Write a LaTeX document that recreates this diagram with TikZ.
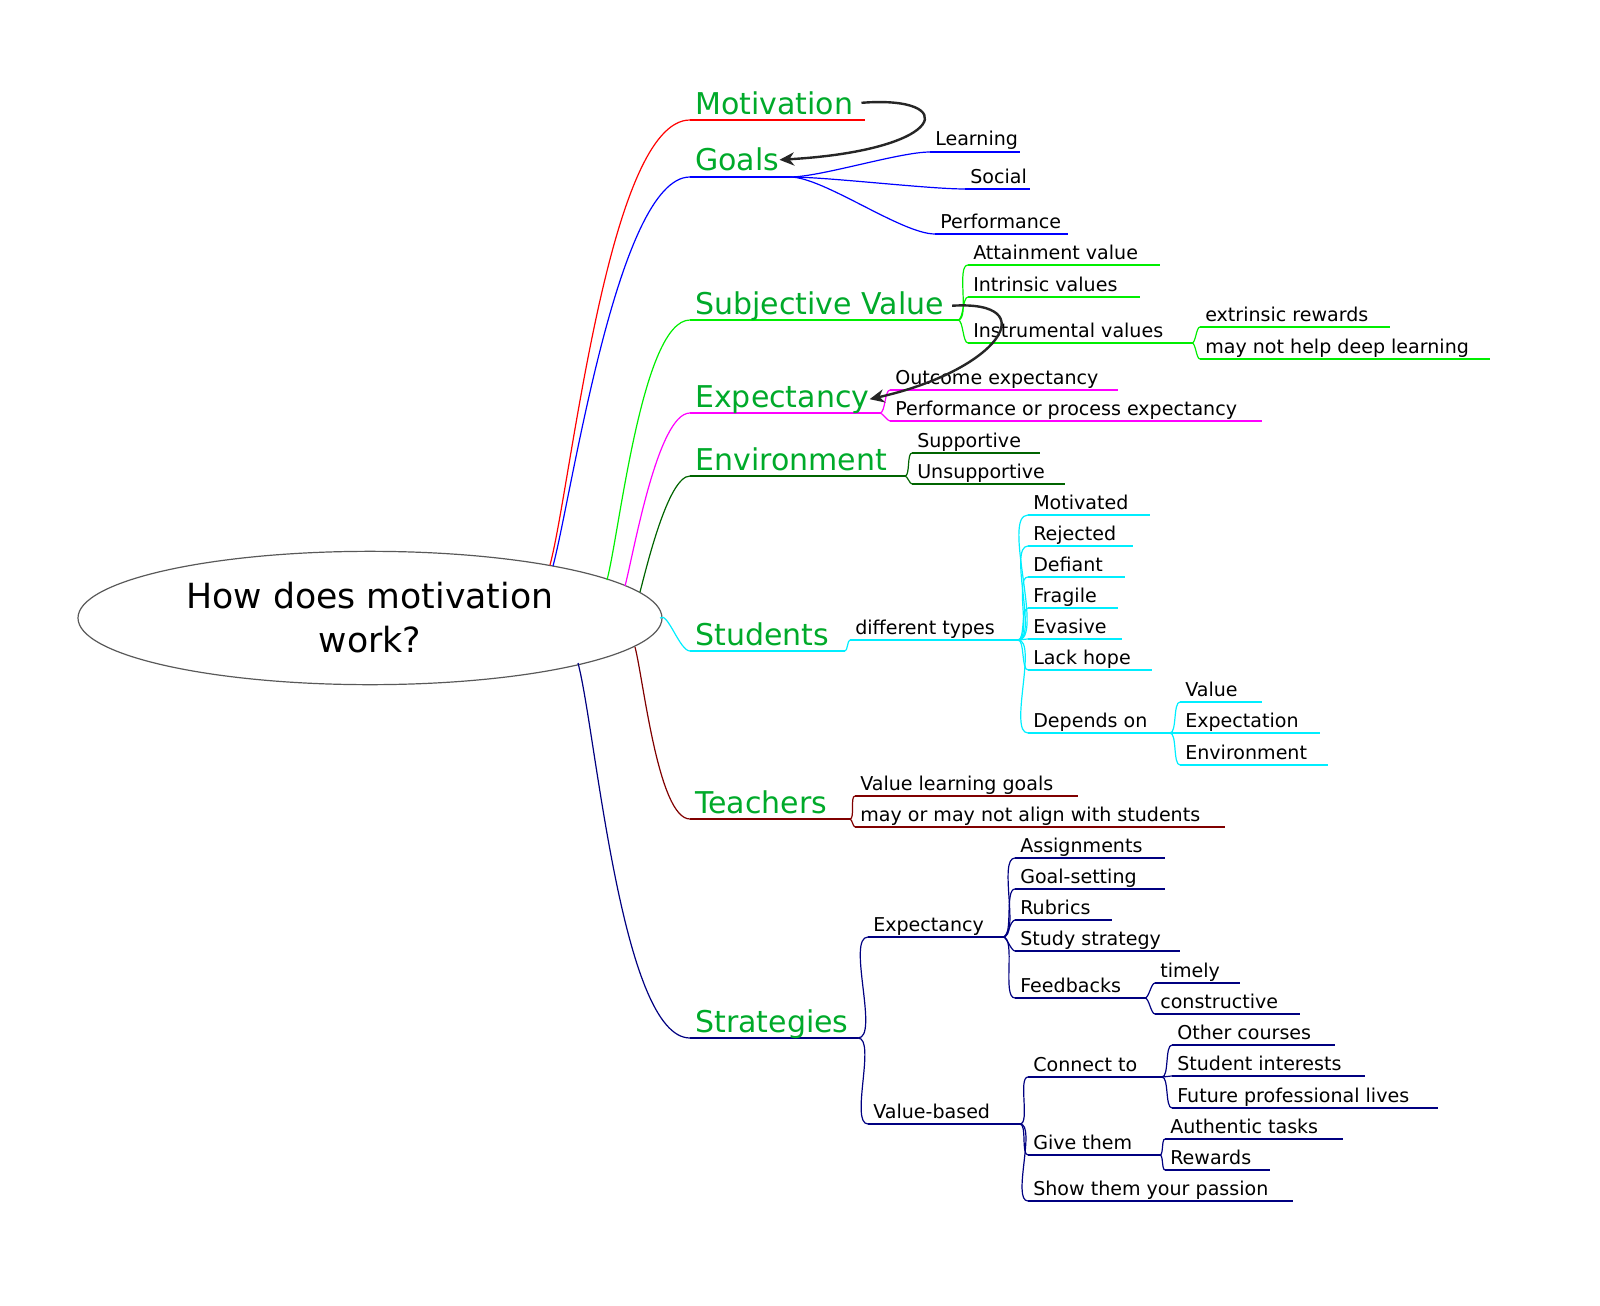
\documentclass[tikz,border=0pt]{standalone}
\usepackage{fontspec}
\setmainfont{DejaVu Sans}
\usetikzlibrary{arrows.meta,shapes.geometric}
\definecolor{lbl}{HTML}{00AA2A}
\definecolor{cR}{HTML}{FF0000}
\definecolor{cB}{HTML}{0000FF}
\definecolor{cG}{HTML}{00EE00}
\definecolor{cM}{HTML}{FF00FF}
\definecolor{cDG}{HTML}{006400}
\definecolor{cC}{HTML}{00EEFF}
\definecolor{cDR}{HTML}{800000}
\definecolor{cN}{HTML}{000080}
\tikzset{
  sm/.style={font=\fontsize{14.3}{16}\selectfont, inner sep=0pt, text=black},
  big/.style={font=\fontsize{22.5}{26}\selectfont, inner sep=0pt, text=lbl},
  ln/.style={line width=0.9pt},
  rel/.style={line width=1.8pt, black!85, -{Stealth[length=11pt,width=10pt]}},
}
\newcommand\mi[7]{\draw[ln,#5] (#2,#4) coordinate (#1-s) -- (#3,#4) coordinate (#1-e);
  \node[#7, anchor=base west] (#1) at ({#2+5},{#4-6}) {#6};}
\newcommand\cn[3]{\draw[ln,#1] (#2-e) to[out=0,in=180,looseness=0.55] (#3-s);}
\newcommand\tc[3]{\draw[ln,#1] (#2) to[out=75,in=180,looseness=0.45] (#3-s);}
\begin{document}
\begin{tikzpicture}[x=0.75pt,y=-0.75pt]
\useasboundingbox (0,0) rectangle (1600,1306);
\node[draw=black!65, line width=0.9pt, ellipse, minimum width=438pt, minimum height=100pt, inner sep=0pt,
  font=\fontsize{26}{33}\selectfont, align=center] (root) at (370,618) {How does motivation\\work?};
\coordinate (r1) at (550,565);
\coordinate (r2) at (553,566);
\coordinate (r3) at (607,580);
\coordinate (r4) at (625,586);
\coordinate (r5) at (640,592);
\coordinate (r6) at (660,618);
\coordinate (r7) at (635,647);
\coordinate (r8) at (578,663);
% top level
\mi{mot}{690}{865}{120}{cR}{Motivation}{big}
\mi{goa}{690}{790}{177}{cB}{Goals}{big}
\mi{sub}{690}{958}{320}{cG}{Subjective Value}{big}
\mi{exp}{690}{880}{413}{cM}{Expectancy}{big}
\mi{env}{690}{905}{476}{cDG}{Environment}{big}
\mi{stu}{690}{845}{651}{cC}{Students}{big}
\mi{tea}{690}{850}{819}{cDR}{Teachers}{big}
\mi{str}{690}{858}{1038}{cN}{Strategies}{big}
\tc{cR}{r1}{mot}\tc{cB}{r2}{goa}\tc{cG}{r3}{sub}\tc{cM}{r4}{exp}
\tc{cDG}{r5}{env}
\draw[ln,cC] (r6) to[out=45,in=180,looseness=0.6] (stu-s);
\draw[ln,cDR] (r7) to[out=-75,in=180,looseness=0.45] (tea-s);
\draw[ln,cN] (r8) to[out=-75,in=180,looseness=0.45] (str-s);
% goals
\mi{g1}{930}{1020}{152}{cB}{Learning}{sm}
\mi{g2}{965}{1030}{189}{cB}{Social}{sm}
\mi{g3}{935}{1068}{234}{cB}{Performance}{sm}
\cn{cB}{goa}{g1}\cn{cB}{goa}{g2}\cn{cB}{goa}{g3}
% subjective
\mi{s1}{968}{1160}{265}{cG}{Attainment value}{sm}
\mi{s2}{968}{1140}{297}{cG}{Intrinsic values}{sm}
\mi{s3}{968}{1192}{343}{cG}{Instrumental values}{sm}
\cn{cG}{sub}{s1}\cn{cG}{sub}{s2}\cn{cG}{sub}{s3}
\mi{s31}{1200}{1390}{327}{cG}{extrinsic rewards}{sm}
\mi{s32}{1200}{1490}{359}{cG}{may not help deep learning}{sm}
\cn{cG}{s3}{s31}\cn{cG}{s3}{s32}
% expectancy
\mi{e1}{890}{1118}{390}{cM}{Outcome expectancy}{sm}
\mi{e2}{890}{1262}{421}{cM}{Performance or process expectancy}{sm}
\cn{cM}{exp}{e1}\cn{cM}{exp}{e2}
% environment
\mi{v1}{912}{1040}{453}{cDG}{Supportive}{sm}
\mi{v2}{912}{1065}{484}{cDG}{Unsupportive}{sm}
\cn{cDG}{env}{v1}\cn{cDG}{env}{v2}
% students
\mi{dt}{850}{1018}{640}{cC}{different types}{sm}
\cn{cC}{stu}{dt}
\mi{t1}{1028}{1150}{515}{cC}{Motivated}{sm}
\mi{t2}{1028}{1133}{546}{cC}{Rejected}{sm}
\mi{t3}{1028}{1125}{577}{cC}{Defiant}{sm}
\mi{t4}{1028}{1118}{608}{cC}{Fragile}{sm}
\mi{t5}{1028}{1122}{639}{cC}{Evasive}{sm}
\mi{t6}{1028}{1152}{670}{cC}{Lack hope}{sm}
\mi{t7}{1028}{1170}{733}{cC}{Depends on}{sm}
\foreach \k in {t1,t2,t3,t4,t5,t6,t7}{\cn{cC}{dt}{\k}}
\mi{d1}{1180}{1262}{702}{cC}{Value}{sm}
\mi{d2}{1180}{1320}{733}{cC}{Expectation}{sm}
\mi{d3}{1180}{1328}{765}{cC}{Environment}{sm}
\cn{cC}{t7}{d1}\cn{cC}{t7}{d2}\cn{cC}{t7}{d3}
% teachers
\mi{h1}{855}{1078}{796}{cDR}{Value learning goals}{sm}
\mi{h2}{855}{1225}{827}{cDR}{may or may not align with students}{sm}
\cn{cDR}{tea}{h1}\cn{cDR}{tea}{h2}
% strategies
\mi{x1}{868}{1003}{937}{cN}{Expectancy}{sm}
\mi{x2}{868}{1020}{1124}{cN}{Value-based}{sm}
\cn{cN}{str}{x1}\cn{cN}{str}{x2}
\mi{a1}{1015}{1165}{858}{cN}{Assignments}{sm}
\mi{a2}{1015}{1165}{889}{cN}{Goal-setting}{sm}
\mi{a3}{1015}{1112}{920}{cN}{Rubrics}{sm}
\mi{a4}{1015}{1180}{951}{cN}{Study strategy}{sm}
\mi{a5}{1015}{1145}{998}{cN}{Feedbacks}{sm}
\foreach \k in {a1,a2,a3,a4,a5}{\cn{cN}{x1}{\k}}
\mi{f1}{1155}{1240}{983}{cN}{timely}{sm}
\mi{f2}{1155}{1300}{1014}{cN}{constructive}{sm}
\cn{cN}{a5}{f1}\cn{cN}{a5}{f2}
\mi{b1}{1028}{1162}{1077}{cN}{Connect to}{sm}
\mi{b2}{1028}{1160}{1155}{cN}{Give them}{sm}
\mi{b3}{1028}{1293}{1201}{cN}{Show them your passion}{sm}
\cn{cN}{x2}{b1}\cn{cN}{x2}{b2}\cn{cN}{x2}{b3}
\mi{c1}{1172}{1335}{1045}{cN}{Other courses}{sm}
\mi{c2}{1172}{1365}{1076}{cN}{Student interests}{sm}
\mi{c3}{1172}{1438}{1108}{cN}{Future professional lives}{sm}
\cn{cN}{b1}{c1}\cn{cN}{b1}{c2}\cn{cN}{b1}{c3}
\mi{k1}{1165}{1343}{1139}{cN}{Authentic tasks}{sm}
\mi{k2}{1165}{1270}{1170}{cN}{Rewards}{sm}
\cn{cN}{b2}{k1}\cn{cN}{b2}{k2}
% relations
\draw[rel] (mot.east) ++(8,0) .. controls (960,95) and (950,150) .. (goa.east);
\draw[rel] (sub.east) ++(8,0) .. controls (1045,300) and (1000,370) .. (exp.east);
\end{tikzpicture}
\end{document}
